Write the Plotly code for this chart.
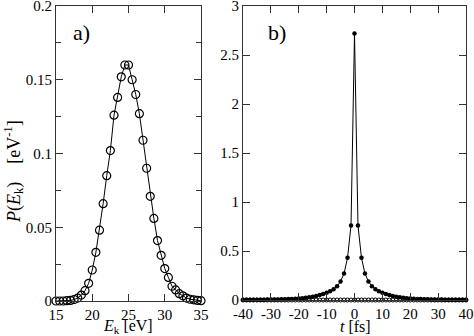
import plotly.graph_objects as go

# ---- panel a) data ----
ek = [15, 15.5, 16, 16.5, 17, 17.5, 18, 18.5, 19, 19.5, 20, 20.5, 21, 21.5, 22, 22.5,
      23, 23.5, 24, 24.5, 25, 25.5, 26, 26.5, 27, 27.5, 28, 28.5, 29, 29.5, 30, 30.5,
      31, 31.5, 32, 32.5, 33, 33.5, 34, 34.5, 35]
p_ek = [0.0, 0.0, 0.0, 0.0002, 0.0004, 0.001, 0.002, 0.004, 0.007, 0.012, 0.021, 0.033,
        0.048, 0.066, 0.085, 0.102, 0.126, 0.138, 0.152, 0.160, 0.160, 0.150, 0.140,
        0.127, 0.109, 0.090, 0.071, 0.056, 0.041, 0.031, 0.022, 0.016, 0.010, 0.0075,
        0.005, 0.0035, 0.002, 0.0012, 0.0008, 0.0004, 0.0002]

# ---- panel b) data ----
t_fs = [-40, -38.75, -37.5, -36.25, -35, -33.75, -32.5, -31.25, -30, -28.75, -27.5, -26.25,
        -25, -23.75, -22.5, -21.25, -20, -18.75, -17.5, -16.25, -15, -13.75, -12.5, -11.25,
        -10, -8.75, -7.5, -6.25, -5, -3.75, -2.5, -1.25, 0, 1.25, 2.5, 3.75, 5, 6.25, 7.5,
        8.75, 10, 11.25, 12.5, 13.75, 15, 16.25, 17.5, 18.75, 20, 21.25, 22.5, 23.75, 25,
        26.25, 27.5, 28.75, 30, 31.25, 32.5, 33.75, 35, 36.25, 37.5, 38.75, 40]
peak_value = 2.72
# values for t = 1.25 ... 40 (curve is symmetric about t = 0)
tail_values = [0.76, 0.43, 0.27, 0.19, 0.14, 0.11, 0.09, 0.074, 0.061, 0.050, 0.041,
               0.034, 0.028, 0.023, 0.019, 0.016, 0.013, 0.011, 0.0095, 0.008, 0.007,
               0.006, 0.0052, 0.0046, 0.004, 0.0035, 0.0031, 0.0028, 0.0025, 0.0022,
               0.002, 0.0018]
filled_vals = tail_values[::-1] + [peak_value] + tail_values
open_vals = [0.0, 0.0, 0.0, 0.0, 0.0, 0.0, 0.0, 0.0, 0.0, 0.0, 0.0, 0.0, 0.0, 0.0, 0.0,
             0.0, 0.0, 0.0, 0.0, 0.0, 0.0, 0.0, 0.0, 0.0, 0.0, 0.0, 0.0, 0.0, 0.0, 0.0,
             0.0, 0.0, 0.0, 0.0, 0.0, 0.0, 0.0, 0.0, 0.0, 0.0, 0.0, 0.0, 0.0, 0.0, 0.0,
             0.0, 0.0, 0.0, 0.0, 0.0, 0.0, 0.0, 0.0, 0.0, 0.0, 0.0, 0.0, 0.0, 0.0, 0.0,
             0.0, 0.0, 0.0, 0.0, 0.0]

a_xticks = [15, 20, 25, 30, 35]
a_xlabels = ["15", "20", "25", "30", "35"]
a_yticks = [0, 0.05, 0.1, 0.15, 0.2]
a_ylabels = ["0", "0.05", "0.1", "0.15", "0.2"]
b_xticks = [-40, -30, -20, -10, 0, 10, 20, 30, 40]
b_xlabels = ["-40", "-30", "-20", "-10", "0", "10", "20", "30", "40"]
b_yticks = [0, 0.5, 1, 1.5, 2, 2.5, 3]
b_ylabels = ["0", "0.5", "1", "1.5", "2", "2.5", "3"]

FONT = "Liberation Serif, Times New Roman, serif"
W, H = 474, 336

fig = go.Figure()
fig.add_trace(go.Scatter(
    x=ek, y=p_ek, mode="lines+markers", xaxis="x", yaxis="y",
    line=dict(color="black", width=1),
    marker=dict(symbol="circle-open", size=8, color="black", line=dict(width=1.2)),
    cliponaxis=False, showlegend=False))
fig.add_trace(go.Scatter(
    x=t_fs, y=open_vals, mode="markers", xaxis="x2", yaxis="y2",
    marker=dict(symbol="circle-open", size=4, color="black", line=dict(width=1)),
    cliponaxis=False, showlegend=False))
fig.add_trace(go.Scatter(
    x=t_fs, y=filled_vals, mode="lines+markers", xaxis="x2", yaxis="y2",
    line=dict(color="black", width=1),
    marker=dict(symbol="circle", size=4.5, color="black"),
    cliponaxis=False, showlegend=False))

def px_x(p):
    return p / W

def px_y(p):
    return 1 - p / H

axis_common = dict(
    showgrid=False, zeroline=False, showline=True, linecolor="#333333", linewidth=1,
    mirror="ticks", ticks="inside", ticklen=7, tickcolor="#333333", tickwidth=1,
    automargin=False, ticklabeloverflow="allow",
    tickfont=dict(family=FONT, size=15, color="black"), fixedrange=True)

fig.update_layout(
    template="none",
    width=W, height=H, margin=dict(l=0, r=0, t=0, b=0, pad=0),
    paper_bgcolor="white", plot_bgcolor="white",
    xaxis=dict(domain=[px_x(56), px_x(201)], range=[15, 35], tickvals=a_xticks,
               ticktext=a_xlabels, anchor="y", **axis_common),
    yaxis=dict(domain=[px_y(301), px_y(6)], range=[0, 0.2], tickvals=a_yticks,
               ticktext=a_ylabels, anchor="x",
               minor=dict(ticks="inside", dtick=0.025, ticklen=5, tickcolor="#333333"),
               **axis_common),
    xaxis2=dict(domain=[px_x(243), px_x(466)], range=[-40, 40], tickvals=b_xticks,
                ticktext=b_xlabels, anchor="y2", **axis_common),
    yaxis2=dict(domain=[px_y(300), px_y(6)], range=[0, 3], tickvals=b_yticks,
                ticktext=b_ylabels, anchor="x2", **axis_common),
)

def note(x, y, text, size=16, angle=0):
    fig.add_annotation(x=px_x(x), y=px_y(y), xref="paper", yref="paper",
                       xanchor="center", yanchor="middle", text=text, textangle=angle,
                       showarrow=False, font=dict(family=FONT, size=size, color="black"))

note(128, 326, "<i>E</i><sub>k</sub> [eV]")
note(355, 326, "<i>t</i> [fs]")
note(13, 172, "<i>P</i>(<i>E</i><sub>k</sub>)&nbsp;&nbsp;&nbsp;&nbsp;[eV<sup>-1</sup>]",
     size=18, angle=-90)
note(81, 33, "a)", size=22)
note(277, 33, "b)", size=22)

fig.write_html("out.html")
